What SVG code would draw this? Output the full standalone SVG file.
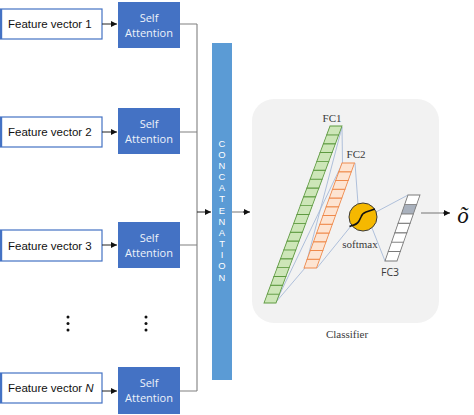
<svg xmlns="http://www.w3.org/2000/svg" width="474" height="415" viewBox="0 0 474 415">
<style>
.fv{fill:#fff;stroke:#4472c4;stroke-width:1.2}
.fvt{font-family:"Liberation Sans",Arial,sans-serif;font-size:11.5px;fill:#111}
.sa{fill:#4472c4}
.sat{font-family:"Open Sans","Noto Sans",sans-serif;font-size:11px;fill:#eef2fa;text-anchor:middle}
.conn{fill:none;stroke:#808080;stroke-width:1.1}
.ar{fill:none;stroke:#222;stroke-width:1}
.nl{fill:none;stroke:#9db3d4;stroke-width:0.8}
.g{fill:#cde6b8;stroke:#5e9a40;stroke-width:0.9}
.o{fill:#fde4d2;stroke:#ef8a4c;stroke-width:0.9}
.w{fill:#fff;stroke:#7a7a7a;stroke-width:0.9}
.lab{font-family:"Liberation Serif","Times New Roman",serif;font-size:11px;fill:#3a3a3a;text-anchor:middle}
.dot{fill:#111}
.cl{font-family:"Liberation Sans",Arial,sans-serif;font-size:9.4px;fill:#fff;text-anchor:middle}
</style>
<defs>
<marker id="ah" markerUnits="userSpaceOnUse" markerWidth="7" markerHeight="7" refX="6" refY="3" orient="auto">
<path d="M0,0 L6,3 L0,6 Z" fill="#111"/>
</marker>
</defs>

<g id="fv1"><rect class="fv" x="0.6" y="9" width="101.4" height="30"/><line x1="1" y1="9" x2="1" y2="39" stroke="#4472c4" stroke-width="2.4"/><text class="fvt" x="8" y="28">Feature vector 1</text></g>
<g id="fv2"><rect class="fv" x="0.6" y="117" width="101.4" height="30"/><line x1="1" y1="117" x2="1" y2="147" stroke="#4472c4" stroke-width="2.4"/><text class="fvt" x="8" y="136">Feature vector 2</text></g>
<g id="fv3"><rect class="fv" x="0.6" y="230" width="101.4" height="31"/><line x1="1" y1="230" x2="1" y2="261" stroke="#4472c4" stroke-width="2.4"/><text class="fvt" x="8" y="249.5">Feature vector 3</text></g>
<g id="fvN"><rect class="fv" x="0.6" y="373" width="101.4" height="30"/><line x1="1" y1="373" x2="1" y2="403" stroke="#4472c4" stroke-width="2.4"/><text class="fvt" x="8" y="392">Feature vector <tspan font-style="italic">N</tspan></text></g>

<g id="sa1"><rect class="sa" x="118" y="2" width="62" height="46"/><text class="sat" x="149" y="22">Self</text><text class="sat" x="149" y="36.5">Attention</text></g>
<g id="sa2"><rect class="sa" x="118" y="108" width="62" height="46"/><text class="sat" x="149" y="128">Self</text><text class="sat" x="149" y="142.5">Attention</text></g>
<g id="sa3"><rect class="sa" x="118" y="222" width="62" height="46"/><text class="sat" x="149" y="242">Self</text><text class="sat" x="149" y="256.5">Attention</text></g>
<g id="saN"><rect class="sa" x="118" y="367" width="62" height="47"/><text class="sat" x="149" y="387">Self</text><text class="sat" x="149" y="401.5">Attention</text></g>

<g id="dots">
<circle class="dot" cx="68" cy="317" r="1.5"/><circle class="dot" cx="68" cy="323.5" r="1.5"/><circle class="dot" cx="68" cy="330" r="1.5"/>
<circle class="dot" cx="146" cy="317" r="1.5"/><circle class="dot" cx="146" cy="323.5" r="1.5"/><circle class="dot" cx="146" cy="330" r="1.5"/>
</g>

<g id="concat">
<rect x="212" y="43" width="20" height="337" fill="#5b9bd5"/>
<text class="cl" x="222" y="146.5">C</text><text class="cl" x="222" y="157.7">O</text><text class="cl" x="222" y="168.8">N</text><text class="cl" x="222" y="180">C</text><text class="cl" x="222" y="191.2">A</text><text class="cl" x="222" y="202.3">T</text><text class="cl" x="222" y="213.5">E</text><text class="cl" x="222" y="224.7">N</text><text class="cl" x="222" y="235.8">A</text><text class="cl" x="222" y="247">T</text><text class="cl" x="222" y="258.2">I</text><text class="cl" x="222" y="269.3">O</text><text class="cl" x="222" y="280.5">N</text>
</g>

<g id="classifier">
<rect x="252" y="99" width="187" height="224" rx="22" fill="#f2f2f2"/>
<text class="lab" x="347" y="338">Classifier</text>
</g>

<g id="netlines">
<line class="nl" x1="342" y1="127" x2="342.5" y2="163"/>
<line class="nl" x1="342" y1="127" x2="305" y2="268"/>
<line class="nl" x1="276" y1="302" x2="342.5" y2="163"/>
<line class="nl" x1="276" y1="302" x2="305" y2="268"/>
<line class="nl" x1="355" y1="163" x2="358" y2="204"/>
<line class="nl" x1="317" y1="268" x2="351" y2="226"/>
<line class="nl" x1="376" y1="212" x2="408" y2="195"/>
<line class="nl" x1="372" y1="228" x2="385" y2="261"/>
</g>

<g id="fc1" transform="translate(264,303) skewX(-20.45)">
<rect class="g" x="0" y="-8.85" width="12" height="8.85"/><rect class="g" x="0" y="-17.7" width="12" height="8.85"/><rect class="g" x="0" y="-26.55" width="12" height="8.85"/><rect class="g" x="0" y="-35.4" width="12" height="8.85"/><rect class="g" x="0" y="-44.25" width="12" height="8.85"/><rect class="g" x="0" y="-53.1" width="12" height="8.85"/><rect class="g" x="0" y="-61.95" width="12" height="8.85"/><rect class="g" x="0" y="-70.8" width="12" height="8.85"/><rect class="g" x="0" y="-79.65" width="12" height="8.85"/><rect class="g" x="0" y="-88.5" width="12" height="8.85"/><rect class="g" x="0" y="-97.35" width="12" height="8.85"/><rect class="g" x="0" y="-106.2" width="12" height="8.85"/><rect class="g" x="0" y="-115.05" width="12" height="8.85"/><rect class="g" x="0" y="-123.9" width="12" height="8.85"/><rect class="g" x="0" y="-132.75" width="12" height="8.85"/><rect class="g" x="0" y="-141.6" width="12" height="8.85"/><rect class="g" x="0" y="-150.45" width="12" height="8.85"/><rect class="g" x="0" y="-159.3" width="12" height="8.85"/><rect class="g" x="0" y="-168.15" width="12" height="8.85"/><rect class="g" x="0" y="-177" width="12" height="8.85"/>
</g>
<text class="lab" x="332" y="122">FC1</text>

<g id="fc2" transform="translate(304,268) skewX(-19.9)">
<rect class="o" x="0" y="-8.75" width="12.5" height="8.75"/><rect class="o" x="0" y="-17.5" width="12.5" height="8.75"/><rect class="o" x="0" y="-26.25" width="12.5" height="8.75"/><rect class="o" x="0" y="-35" width="12.5" height="8.75"/><rect class="o" x="0" y="-43.75" width="12.5" height="8.75"/><rect class="o" x="0" y="-52.5" width="12.5" height="8.75"/><rect class="o" x="0" y="-61.25" width="12.5" height="8.75"/><rect class="o" x="0" y="-70" width="12.5" height="8.75"/><rect class="o" x="0" y="-78.75" width="12.5" height="8.75"/><rect class="o" x="0" y="-87.5" width="12.5" height="8.75"/><rect class="o" x="0" y="-96.25" width="12.5" height="8.75"/><rect class="o" x="0" y="-105" width="12.5" height="8.75"/>
</g>
<text class="lab" x="356" y="158">FC2</text>

<g id="softmax">
<circle cx="363" cy="217" r="14" fill="#f5b800" stroke="#3a3a3a" stroke-width="1"/>
<path d="M375,209 L366,212 Q362,213.5 361,217 L359,221 Q357,224.5 352,225.5 L349.5,226.5" fill="none" stroke="#111" stroke-width="1.6"/>
<text class="lab" x="360" y="248" font-size="10.5px">softmax</text>
</g>

<g id="fc3" transform="translate(385,261) skewX(-19.2)">
<rect class="w" x="0" y="-9.43" width="12" height="9.43"/><rect class="w" x="0" y="-18.86" width="12" height="9.43"/><rect class="w" x="0" y="-28.29" width="12" height="9.43"/><rect class="w" x="0" y="-37.72" width="12" height="9.43"/><rect class="w" x="0" y="-47.15" width="12" height="9.43"/><rect x="0" y="-56.58" width="12" height="9.43" fill="#a9b1bd" stroke="#7a7a7a" stroke-width="0.9"/><rect class="w" x="0" y="-66" width="12" height="9.42"/>
</g>
<text x="390" y="276" font-family="'Open Sans','Noto Sans',sans-serif" font-size="10.5px" fill="#3a3a3a" text-anchor="middle">FC3</text>

<g id="output">
<text x="463" y="223" font-family="'Liberation Serif','Times New Roman',serif" font-style="italic" font-size="23px" fill="#111" text-anchor="middle">õ</text>
</g>

<g id="connectors">
<line class="ar" x1="102" y1="24" x2="117" y2="24" marker-end="url(#ah)"/>
<line class="ar" x1="102" y1="132" x2="117" y2="132" marker-end="url(#ah)"/>
<line class="ar" x1="102" y1="245" x2="117" y2="245" marker-end="url(#ah)"/>
<line class="ar" x1="102" y1="391" x2="117" y2="391" marker-end="url(#ah)"/>
<path class="conn" d="M180,24 H197 M180,132 H197 M180,245 H197 M180,391 H197 M197,24 V391"/>
<line class="ar" x1="197" y1="212" x2="211" y2="212" marker-end="url(#ah)"/>
<line class="conn" x1="232" y1="212" x2="244" y2="212"/>
<line class="ar" x1="243" y1="212" x2="250" y2="212" marker-end="url(#ah)"/>
<line class="conn" x1="421" y1="213" x2="444" y2="213"/>
<line class="ar" x1="443" y1="213" x2="450" y2="213" marker-end="url(#ah)"/>
</g>
</svg>
